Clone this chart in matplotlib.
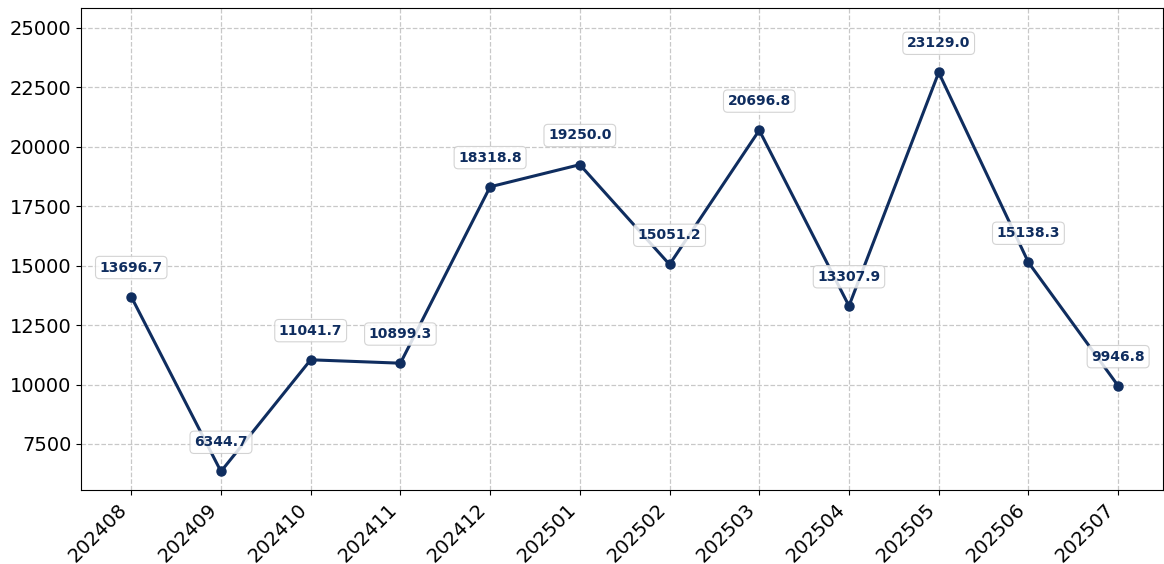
import matplotlib
matplotlib.use("Agg")
import matplotlib.pyplot as plt

months = ["202408", "202409", "202410", "202411", "202412", "202501",
          "202502", "202503", "202504", "202505", "202506", "202507"]
values = [13696.7, 6344.7, 11041.7, 10899.3, 18318.8, 19250.0,
          15051.2, 20696.8, 13307.9, 23129.0, 15138.3, 9946.8]

navy = "#0f2d5f"

fig = plt.figure(figsize=(11.64, 5.64), dpi=100)
ax = fig.add_axes([81 / 1164, 1 - 490 / 564, (1163 - 81) / 1164, (490 - 8) / 564])

x = list(range(len(months)))
ax.plot(x, values, color=navy, linewidth=2.2, marker="o", markersize=6.5)

for xi, v in zip(x, values):
    ax.annotate(f"{v:.1f}", (xi, v), xytext=(0, 21), textcoords="offset points",
                ha="center", va="center", fontsize=10, fontweight="bold", color=navy,
                bbox=dict(boxstyle="round,pad=0.3", fc="white", ec="#cccccc", lw=0.8, alpha=0.85))

ax.set_xticks(x)
ax.set_xticklabels(months, rotation=45, ha="right", fontsize=14)
ax.tick_params(axis="y", labelsize=14)
ax.set_xlim(-0.56, 11.5)
ax.set_ylim(5565, 25840)
ax.grid(True, linestyle="--", color="#bbbbbb", alpha=0.8, linewidth=0.9)
ax.set_axisbelow(True)

fig.savefig("out.png", dpi=100)
